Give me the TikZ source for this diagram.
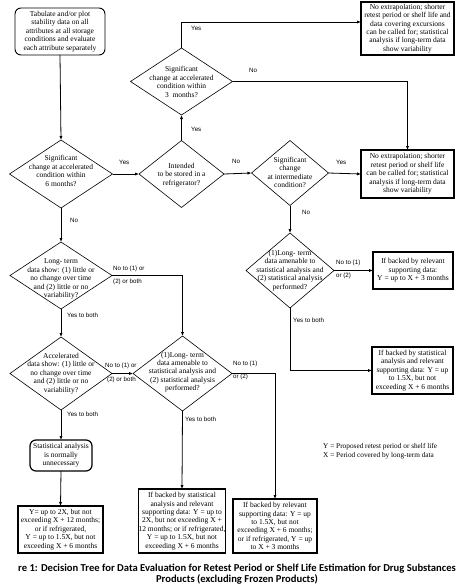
\documentclass[tikz,border=0pt]{standalone}
\usepackage{fontspec}
\setmainfont{Liberation Serif}
\newfontfamily\labfont{Liberation Sans}
\newfontfamily\capfont{Carlito}
\usetikzlibrary{shapes.geometric,arrows.meta}
\begin{document}
\begin{tikzpicture}[x=1pt,y=-1pt,
  txt/.style={font=\fontsize{7.5}{8.4}\selectfont,align=center,inner sep=0pt},
  box/.style={txt,draw,line width=1.2pt,outer sep=0pt},
  rbox/.style={box,rounded corners=6pt,line width=0.9pt},
  dia/.style={draw,shape=diamond,inner sep=0pt,outer sep=0pt,line width=0.6pt},
  dtext/.style={txt},
  lab/.style={font=\labfont\fontsize{6.2}{7}\selectfont,inner sep=0pt,anchor=west},
  arr/.style={line width=0.8pt,-{Latex[length=4pt,width=3.2pt]}},
  captext/.style={inner sep=0pt,anchor=base,font=\capfont\bfseries\fontsize{10.6}{12}\selectfont},
]
\useasboundingbox (0,0) rectangle (474,586);
\fill[white] (0,0) rectangle (474,586);

% boxes
\node[rbox,minimum width=90pt,minimum height=47pt] (start) at (60,31.5)
  {Tabulate and/or plot\\stability data on all\\attributes at all storage\\conditions and evaluate\\each attribute separately};
\node[box,minimum width=93pt,minimum height=53pt] (ne) at (407.5,28.5)
  {No extrapolation; shorter\\retest period or shelf life and\\data covering excursions\\can be called for; statistical\\analysis if long-term data\\show variability};
\node[box,minimum width=93pt,minimum height=48pt] (e) at (407.5,174)
  {No extrapolation; shorter\\retest period or shelf life\\can be called for; statistical\\analysis if long-term data\\show variability};
\node[box,minimum width=80pt,minimum height=37pt] (f) at (413,270.5)
  {If backed by relevant\\supporting data:\\Y = up to X + 3 months};
\node[box,minimum width=81pt,minimum height=47pt] (g) at (412.5,370.5)
  {If backed by statistical\\analysis and relevant\\supporting data: Y = up\\to 1.5X, but not\\exceeding X + 6 months};
\node[rbox,line width=1.2pt,minimum width=62pt,minimum height=31pt] (sa) at (61,455.5)
  {Statistical analysis\\is normally\\unnecessary};
\node[box,minimum width=85pt,minimum height=47pt] (h) at (60.5,529.5)
  {Y= up to 2X, but not\\exceeding X + 12 months;\\or if refrigerated,\\Y = up to 1.5X, but not\\exceeding X + 6 months};
\node[box,minimum width=87pt,minimum height=64pt] (i) at (182,521)
  {If backed by statistical\\analysis and relevant\\supporting data: Y = up to\\2X, but not exceeding X +\\12 months; or if refrigerated,\\Y = up to 1.5X, but not\\exceeding X + 6 months};
\node[box,minimum width=84pt,minimum height=54pt] (j) at (275,526)
  {If backed by relevant\\supporting data: Y = up\\to 1.5X, but not\\exceeding X + 6 months;\\or if refrigerated, Y = up\\to X + 3 months};

% diamonds
\node[dia,minimum width=103pt,minimum height=68pt] (d1) at (61,174) {};
\node[dtext] (d1t) at (61,171) {Significant\\change at accelerated\\condition within\\6 months?};
\node[dia,minimum width=85pt,minimum height=67pt] (d2) at (181.5,174) {};
\node[dtext] (d2t) at (181.5,175) {Intended\\to be stored in a\\refrigerator?};
\node[dia,minimum width=102pt,minimum height=67pt] (d3) at (181.5,81.5) {};
\node[dtext] (d3t) at (181.5,82) {Significant\\change at accelerated\\condition within\\3\ \ months?};
\node[dia,minimum width=77pt,minimum height=65pt] (d4) at (290,173) {};
\node[dtext] (d4t) at (290,172.5) {Significant\\change\\at intermediate\\condition?};
\node[dia,minimum width=88pt,minimum height=75pt] (d5) at (290,270.5) {};
\node[dtext] (d5t) at (290,270.5) {(1)Long- term\\data amenable to\\statistical analysis and\\(2) statistical analysis\\performed?};
\node[dia,minimum width=102pt,minimum height=67pt] (dlt) at (61,275.5) {};
\node[dtext] (dltt) at (61,279) {Long- term\\data show: (1) little or\\no change over time\\and (2) little or no\\variability?};
\node[dia,minimum width=102pt,minimum height=73pt] (d7) at (61,373.5) {};
\node[dtext] (d7t) at (61,373.5) {Accelerated\\data show: (1) little or\\no change over time\\and (2) little or no\\variability?};
\node[dia,minimum width=99pt,minimum height=75pt] (d6) at (182.5,373.5) {};
\node[dtext] (d6t) at (182.5,372) {(1)Long- term\\data amenable to\\statistical analysis and\\(2) statistical analysis\\performed?};

% connectors
\coordinate (netop) at (181.5,22);
\draw[arr] (start.south) -- (d1.north);
\draw[arr] (d1.east) -- (d2.west);
\draw[arr] (d1.south) -- (dlt.north);
\draw[arr] (d2.north) -- (d3.south);
\draw[arr] (d2.east) -- (d4.west);
\draw[arr] (d3.north) -- (netop) -- (netop -| ne.west);
\draw[arr] (d3.east) -| (e.north);
\draw[arr] (d4.east) -- (e.west);
\draw[arr] (d4.south) -- (d5.north);
\draw[arr] (d5.east) -- (d5.east -| f.west);
\draw[arr] (d5.south) |- (g.west);
\draw[arr] (dlt.east) -| (d6.north);
\draw[arr] (dlt.south) -- (d7.north);
\draw[arr] (d7.east) -- (d6.west);
\draw[arr] (d7.south) -- (sa.north);
\draw[arr] (sa.south) -- (h.north);
\draw[arr] (d6.south) -- (i.north);
\draw[arr] (d6.east) -| (j.north);

% labels
\node[lab] (l1) at (119,162) {Yes};
\node[lab] (l2) at (70,220) {No};
\node[lab] (l3) at (191,129) {Yes};
\node[lab] (l4) at (232,161) {No};
\node[lab] (l5) at (191,28) {Yes};
\node[lab] (l6) at (249,70) {No};
\node[lab] (l7) at (336,162) {Yes};
\node[lab] (l8) at (302,212) {No};
\node[lab] (l9) at (336,263) {No to (1)};
\node[lab] (l10) at (336,276) {or (2)};
\node[lab] (l11) at (293,320) {Yes to both};
\node[lab] (l12) at (113,269) {No to (1) or};
\node[lab] (l13) at (113,282) {(2) or both};
\node[lab] (l14) at (67,315) {Yes to both};
\node[lab] (l15) at (105,366) {No to (1) or};
\node[lab] (l16) at (107,380) {(2) or both};
\node[lab] (l17) at (67,414) {Yes to both};
\node[lab] (l18) at (233,364) {No to (1)};
\node[lab] (l19) at (233,377) {or (2)};
\node[lab] (l20) at (185,419) {Yes to both};

% legend
\node[txt,align=left,anchor=west,font=\fontsize{7.3}{9}\selectfont] (leg) at (323,451)
  {Y = Proposed retest period or shelf life\\X = Period covered by long-term data};

% caption
\node[captext] (cap1) at (237,571)
  {re 1: Decision Tree for Data Evaluation for Retest Period or Shelf Life Estimation for Drug Substances};
\node[captext] (cap2) at (237,582.5)
  {Products (excluding Frozen Products)};
\end{tikzpicture}
\end{document}
